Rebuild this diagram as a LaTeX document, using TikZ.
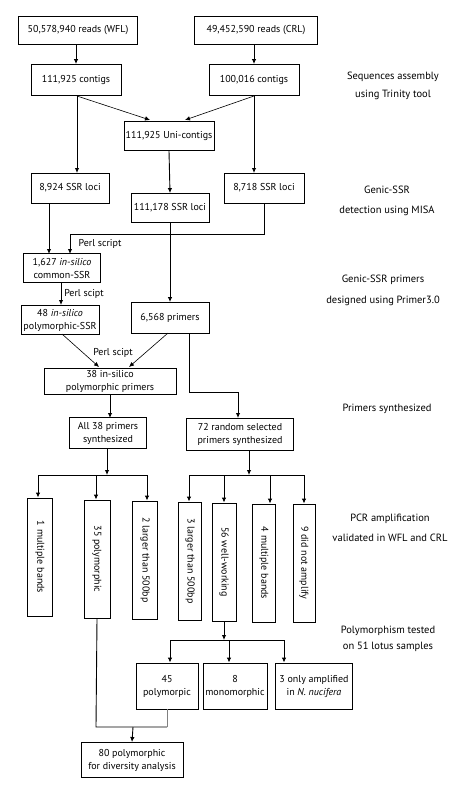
\documentclass[tikz,border=0pt]{standalone}
\usepackage{fontspec}
\setmainfont{PT Sans}
\usetikzlibrary{arrows.meta}

\tikzset{
  box/.style={draw, line width=0.9pt, align=center, inner sep=1pt,
    font=\fontsize{10}{13}\selectfont},
  vbox/.style={box, rotate=-90, minimum width=118pt},
  note/.style={align=center, font=\fontsize{10.5}{18}\selectfont},
  arr/.style={line width=0.9pt, -{Latex[length=5pt,width=4.5pt]}},
  link/.style={line width=0.9pt},
  slant/.style={line width=0.6pt, -{Latex[length=5pt,width=4.5pt]}}
}

\begin{document}
\begin{tikzpicture}[x=1pt,y=-1pt]
    \useasboundingbox (0,0) rectangle (474,789);

    % Reads and assembly
    \node[box, minimum width=119pt, minimum height=28pt] (wfl) at (78,30) {50,578,940 reads (WFL)};
    \node[box, minimum width=123pt, minimum height=28pt] (crl) at (256,30) {49,452,590 reads (CRL)};
    \node[box, minimum width=90pt, minimum height=31pt] (cw) at (76,80) {111,925 contigs};
    \node[box, minimum width=90pt, minimum height=31pt] (cc) at (254,80) {100,016 contigs};
    \node[box, minimum width=90pt, minimum height=29pt] (uni) at (169,136) {111,925 Uni-contigs};

    \draw[arr] (wfl.south -| cw) -- (cw.north);
    \draw[arr] (crl.south -| cc) -- (cc.north);
    \draw[slant] (77,96) -- (150,120);
    \draw[slant] (254,96) -- (185,120);

    % SSR loci
    \node[box, minimum width=78pt, minimum height=30pt] (lw) at (70,188) {8,924 SSR loci};
    \node[box, minimum width=80pt, minimum height=30pt] (lc) at (264,188) {8,718 SSR loci};
    \node[box, minimum width=78pt, minimum height=29pt] (lu) at (170,208) {111,178 SSR loci};

    \draw[arr] (77,96) -- (77,173);
    \draw[arr] (254,96) -- (254,173);
    \draw[arr] (uni.south) -- (lu.north);

    % Common and polymorphic SSR
    \node[box, minimum width=77pt, minimum height=29pt] (com) at (62,268) {1,627 \textit{in-silico}\\common-SSR};
    \node[box, minimum width=78pt, minimum height=29pt] (poly) at (60,320) {48 \textit{in-silico}\\polymorphic-SSR};
    \node[box, minimum width=78pt, minimum height=31pt] (prim) at (170,318) {6,568 primers};
    \node[box, minimum width=132pt, minimum height=26pt] (ins) at (110,381) {38 in-silico\\polymorphic primers};

    \coordinate (c1) at (264,234);
    \draw[arr] (49,203) -- (49,254);
    \draw[arr] (264,203) -- (c1) -- (70,234) -- (70,254);
    \node[font=\fontsize{10}{11}\selectfont] at (100,244) {Perl script};
    \draw[arr] (61,283) -- (61,305);
    \node[font=\fontsize{10}{11}\selectfont] at (84,294) {Perl scipt};
    \draw[arr] (lu.south) -- (prim.north);
    \draw[slant] (62,334) -- (99,367);
    \draw[slant] (168,333) -- (129,367);
    \node[font=\fontsize{10}{11}\selectfont] at (113,353) {Perl scipt};

    % Synthesized primers
    \node[box, minimum width=77pt, minimum height=31pt] (all) at (108,433) {All 38 primers\\synthesized};
    \node[box, minimum width=107pt, minimum height=32pt] (rnd) at (240,434) {72 random selected\\primers synthesized};

    \draw[arr] (110,394) -- (110,418);
    \draw[arr] (189,333) -- (189,392) -- (238,392) -- (238,418);

    % PCR results
    \node[vbox, minimum height=25pt] (r1) at (40,557) {1 multiple bands};
    \node[vbox, minimum height=26pt] (r2) at (97,559) {35 polymorphic};
    \node[vbox, minimum height=25pt] (r3) at (145,560) {2 larger than 500bp};
    \node[vbox, minimum height=23pt] (r4) at (190,561) {3 larger than 500bp};
    \node[vbox, minimum height=24pt] (r5) at (224,562) {56 well-working};
    \node[vbox, minimum height=23pt] (r6) at (264,563) {4 multiple bands};
    \node[vbox, minimum height=22pt] (r7) at (304,563) {9 did not amplify};

    \coordinate (b1) at (107,475);
    \coordinate (b2) at (249,475);
    \draw[arr] (107,449) -- (b1);
    \draw[arr] (249,450) -- (b2);
    \draw[link] (38,475) -- (147,475);
    \draw[link] (189,475) -- (304,475);
    \foreach \x/\n in {38/r1, 96/r2, 147/r3, 189/r4, 224/r5, 270/r6, 304/r7}
        \draw[arr] (\x,475) -- (\x,0 |- \n.west);

    % Polymorphism test
    \node[box, minimum width=62pt, minimum height=46pt] (p45) at (167,686) {45\\polymorpic};
    \node[box, minimum width=64pt, minimum height=46pt] (p8) at (235,686) {8\\monomorphic};
    \node[box, minimum width=77pt, minimum height=46pt] (p3) at (314,686) {3 only amplified\\in \textit{N. nucifera}};

    \coordinate (b3) at (224,640);
    \draw[arr] (r5.east) -- (b3);
    \draw[link] (170,640) -- (284,640);
    \foreach \x/\n in {170/p45, 229/p8, 284/p3}
        \draw[arr] (\x,640) -- (\x,0 |- \n.north);

    % Final set
    \node[box, minimum width=102pt, minimum height=35pt] (fin) at (132,760) {80 polymorphic\\for diversity analysis};
    \draw[link] (r2.east) -- (96,727) -- (167,727);
    \draw[link, gray] (p45.south) -- (167,727);
    \draw[arr] (133,727) -- (fin.north);

    % Stage labels
    \node[note] at (393,86) {Sequences assembly\\using Trinity tool};
    \node[note, font=\fontsize{10.5}{20}\selectfont] at (387,201) {Genic-SSR\\detection using MISA};
    \node[note, font=\fontsize{10.5}{21}\selectfont] at (383,290) {Genic-SSR primers\\designed using Primer3.0};
    \node[note] at (387,409) {Primers synthesized};
    \node[note, font=\fontsize{10.5}{20}\selectfont] at (390,528) {PCR amplification\\validated in WFL and CRL};
    \node[note, font=\fontsize{10.5}{16}\selectfont] at (388,639) {Polymorphism tested\\on 51 lotus samples};
\end{tikzpicture}
\end{document}
